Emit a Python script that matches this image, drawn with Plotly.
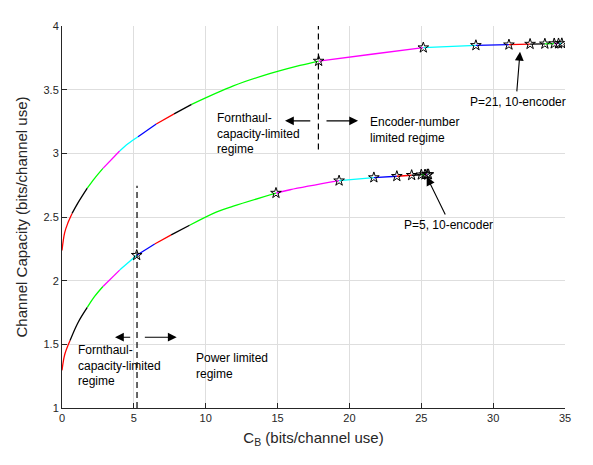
import plotly.graph_objects as go

# Channel capacity vs fronthaul capacity C_B
# P = 21 (upper curve)
p21_cb = [0, 0.19, 0.42, 0.70, 1.11, 1.76, 2.27, 2.85, 4.01, 4.59, 5.29, 6.56, 7.8, 9.02,
          11.92, 14.0, 16.56, 17.86, 21.67, 25.14, 28.8, 31.1, 32.57, 33.6, 34.25, 34.55, 34.78]
p21_cap = [2.237, 2.379, 2.456, 2.528, 2.611, 2.727, 2.804, 2.882, 3.018, 3.075, 3.13, 3.23,
           3.31, 3.385, 3.53, 3.61, 3.69, 3.725, 3.78, 3.83, 3.848, 3.853, 3.858, 3.86,
           3.862, 3.862, 3.863]
p21_breaks = [0, 0.70, 1.76, 2.85, 4.01, 5.29, 6.56, 7.8, 9.02, 17.86, 25.14, 28.8,
              31.1, 32.57, 33.6, 34.25, 34.55, 34.78]
p21_stars = [17.86, 25.14, 28.8, 31.1, 32.57, 33.6, 34.25, 34.55, 34.78]

# P = 5 (lower curve)
p5_cb = [0, 0.19, 0.56, 1.11, 1.76, 2.27, 2.85, 4.01, 5.2, 6.45, 7.6, 8.88, 10.77, 11.92,
         14.89, 15.87, 19.28, 21.7, 23.3, 24.33, 25.0, 25.26, 25.42, 25.5]
p5_cap = [1.296, 1.42, 1.53, 1.67, 1.79, 1.876, 1.954, 2.083, 2.20, 2.288, 2.36, 2.435, 2.54,
          2.585, 2.688, 2.714, 2.785, 2.81, 2.82, 2.828, 2.832, 2.833, 2.834, 2.834]
p5_breaks = [0, 0.56, 1.76, 2.85, 4.01, 5.2, 6.45, 7.6, 8.88, 14.89, 19.28, 21.7, 23.3,
             24.33, 25.0, 25.26, 25.42, 25.5]
p5_stars = [5.2, 14.89, 19.28, 21.7, 23.3, 24.33, 25.0, 25.26, 25.42, 25.5]

# regime boundaries (dashed lines)
p21_regime_cb = 17.84
p21_regime_cap = [3.03, 4.0]
p5_regime_cb = 5.22
p5_regime_cap = [1.0, 2.745]

seg_colors = ['#ff0000', '#000000', '#00ff00', '#ff00ff', '#00ffff', '#0000ff']

fig = go.Figure()


def add_curve(cb, cap, breaks, stars):
    for i in range(len(breaks) - 1):
        x0, x1 = breaks[i], breaks[i + 1]
        xs = [x for x in cb if x0 <= x <= x1]
        ys = [y for x, y in zip(cb, cap) if x0 <= x <= x1]
        fig.add_trace(go.Scatter(x=xs, y=ys, mode='lines',
                                 line=dict(color=seg_colors[i % 6], width=1.3, shape='spline'),
                                 showlegend=False, hoverinfo='skip'))
    sy = [y for x, y in zip(cb, cap) if x in stars]
    fig.add_trace(go.Scatter(x=stars, y=sy, mode='markers',
                             marker=dict(symbol='star-open', size=8, color='black',
                                         line=dict(width=1)),
                             showlegend=False))


add_curve(p21_cb, p21_cap, p21_breaks, p21_stars)
add_curve(p5_cb, p5_cap, p5_breaks, p5_stars)

# dashed regime separators
for xc, yr in [(p21_regime_cb, p21_regime_cap), (p5_regime_cb, p5_regime_cap)]:
    fig.add_trace(go.Scatter(x=[xc, xc], y=yr, mode='lines',
                             line=dict(color='black', width=1.2, dash='6px,4px'),
                             showlegend=False, hoverinfo='skip'))

txt_font = dict(family='Liberation Sans, Arial', size=12, color='black')

labels = [
    (10.65, 3.155, 'Fornthaul-<br>capacity-limited<br>regime', 'left'),
    (21.3, 3.185, 'Encoder-number<br>limited regime', 'left'),
    (31.73, 3.40, 'P=21, 10-encoder', 'center'),
    (26.9, 2.44, 'P=5, 10-encoder', 'center'),
    (0.97, 1.335, 'Fornthaul-<br>capacity-limited<br>regime', 'left'),
    (9.2, 1.333, 'Power limited<br>regime', 'left'),
]
for x, y, t, anc in labels:
    fig.add_annotation(x=x, y=y, text=t, showarrow=False, xanchor=anc, yanchor='middle',
                       align='left', font=txt_font)

# arrows: (head x, head y, tail x, tail y)
arrows = [
    (15.52, 3.255, 17.38, 3.255),
    (20.6, 3.255, 18.3, 3.255),
    (3.69, 1.556, 4.85, 1.556),
    (7.98, 1.556, 5.66, 1.556),
    (31.87, 3.797, 31.64, 3.475),
    (25.38, 2.817, 26.72, 2.508),
]
for hx, hy, tx, ty in arrows:
    fig.add_annotation(x=hx, y=hy, ax=tx, ay=ty, xref='x', yref='y', axref='x', ayref='y',
                       text='', showarrow=True, arrowhead=2, arrowsize=1.6,
                       arrowwidth=1.1, arrowcolor='black')

axis_common = dict(showline=True, linecolor='#262626', linewidth=1, mirror=False,
                   ticks='inside', ticklen=5, tickcolor='#262626',
                   showgrid=True, gridcolor='#dedede', gridwidth=1, zeroline=False,
                   tickfont=dict(family='Liberation Sans, Arial', size=11, color='#262626'))

# the page body adds an 8px offset, so margins are shifted to keep the plot in place
fig.update_layout(
    width=593, height=465,
    margin=dict(l=54, r=36, t=12, b=65),
    paper_bgcolor='white', plot_bgcolor='white',
    font=dict(family='Liberation Sans, Arial', color='#262626'),
    xaxis=dict(range=[0, 35], dtick=5,
               title=dict(text='C<sub>B</sub> (bits/channel use)', font=dict(size=15), standoff=9),
               **axis_common),
    yaxis=dict(range=[1, 4], dtick=0.5,
               title=dict(text='Channel Capacity (bits/channel use)', font=dict(size=15), standoff=12),
               **axis_common),
)

fig.write_html("out.html")
